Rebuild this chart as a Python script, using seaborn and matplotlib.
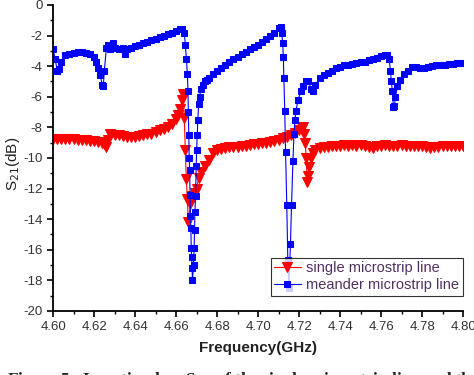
import matplotlib
matplotlib.use("Agg")
import matplotlib.pyplot as plt
import seaborn as sns
import pandas as pd
from matplotlib.ticker import MultipleLocator

# single microstrip line
single_f = [4.600, 4.602, 4.604, 4.606, 4.608, 4.610, 4.612, 4.614, 4.616, 4.618,
            4.620, 4.622, 4.624, 4.625, 4.626, 4.627, 4.628, 4.630, 4.632, 4.634,
            4.636, 4.638, 4.640, 4.642, 4.644, 4.646, 4.648, 4.650, 4.652, 4.654,
            4.656, 4.658, 4.660, 4.661, 4.662, 4.663, 4.6635, 4.6640, 4.6645, 4.665,
            4.6655, 4.666, 4.667, 4.668, 4.669, 4.670, 4.671, 4.672, 4.674, 4.676,
            4.678, 4.680, 4.682, 4.684, 4.686, 4.688, 4.690, 4.692, 4.694, 4.696,
            4.698, 4.700, 4.702, 4.704, 4.706, 4.708, 4.710, 4.712, 4.714, 4.716,
            4.718, 4.720, 4.7215, 4.722, 4.7225, 4.723, 4.7235, 4.724, 4.7245, 4.725,
            4.726, 4.727, 4.728, 4.730, 4.732, 4.734, 4.736, 4.738, 4.740, 4.742,
            4.744, 4.746, 4.748, 4.750, 4.752, 4.754, 4.756, 4.758, 4.760, 4.762,
            4.764, 4.766, 4.768, 4.770, 4.772, 4.774, 4.776, 4.778, 4.780, 4.782,
            4.784, 4.786, 4.788, 4.790, 4.792, 4.794, 4.796, 4.798, 4.800]
single_s21 = [-8.75, -8.75, -8.75, -8.75, -8.75, -8.75, -8.8, -8.8, -8.85, -8.9,
              -8.9, -8.95, -9.0, -9.1, -9.3, -8.8, -8.45, -8.5, -8.5, -8.55,
              -8.6, -8.6, -8.6, -8.55, -8.5, -8.45, -8.4, -8.3, -8.2, -8.1,
              -7.95, -7.75, -7.45, -7.2, -6.8, -6.2, -5.8, -7.4, -9.5, -11.4,
              -12.7, -14.2, -13.0, -12.5, -12.3, -12.0, -11.3, -10.9, -10.5, -10.1,
              -9.7, -9.5, -9.4, -9.35, -9.3, -9.3, -9.25, -9.2, -9.2, -9.15,
              -9.1, -9.1, -9.05, -9.0, -8.95, -8.9, -8.8, -8.7, -8.65, -8.5,
              -8.35, -8.2, -8.0, -8.0, -8.4, -9.0, -10.0, -11.6, -11.2, -10.6,
              -10.0, -9.7, -9.5, -9.35, -9.3, -9.25, -9.2, -9.2, -9.2, -9.15,
              -9.2, -9.15, -9.2, -9.15, -9.2, -9.3, -9.35, -9.2, -9.2, -9.15,
              -9.2, -9.2, -9.2, -9.15, -9.2, -9.2, -9.2, -9.2, -9.2, -9.25,
              -9.35, -9.3, -9.25, -9.2, -9.2, -9.2, -9.2, -9.2, -9.2]

# meander microstrip line
meander_f = [4.600, 4.601, 4.602, 4.603, 4.604, 4.606, 4.608, 4.610, 4.612, 4.614,
             4.616, 4.618, 4.620, 4.621, 4.622, 4.623, 4.624, 4.6245, 4.625, 4.626,
             4.627, 4.628, 4.629, 4.630, 4.632, 4.634, 4.635, 4.636, 4.638, 4.640,
             4.642, 4.644, 4.646, 4.648, 4.650, 4.652, 4.654, 4.656, 4.658, 4.660,
             4.662, 4.663, 4.664, 4.6645, 4.665, 4.6655, 4.6658, 4.666, 4.6662, 4.6664,
             4.6666, 4.6668, 4.667, 4.6672, 4.6674, 4.6676, 4.6678, 4.668, 4.6685, 4.6688,
             4.669, 4.6692, 4.6695, 4.6698, 4.670, 4.6703, 4.6706, 4.671, 4.6715, 4.672,
             4.673, 4.674, 4.675, 4.676, 4.678, 4.680, 4.682, 4.684, 4.686, 4.688,
             4.690, 4.692, 4.694, 4.696, 4.698, 4.700, 4.702, 4.704, 4.706, 4.708,
             4.710, 4.711, 4.7115, 4.712, 4.7123, 4.7126, 4.713, 4.7134, 4.714, 4.7145,
             4.715, 4.7158, 4.7163, 4.717, 4.7175, 4.718, 4.7185, 4.7195, 4.721, 4.722,
             4.7235, 4.7245, 4.726, 4.727, 4.728, 4.730, 4.732, 4.734, 4.736, 4.738,
             4.740, 4.742, 4.744, 4.746, 4.748, 4.750, 4.752, 4.754, 4.756, 4.758,
             4.760, 4.762, 4.763, 4.764, 4.7645, 4.765, 4.7655, 4.766, 4.7665, 4.767,
             4.768, 4.769, 4.771, 4.773, 4.775, 4.777, 4.779, 4.781, 4.783, 4.785,
             4.787, 4.789, 4.791, 4.793, 4.795, 4.797, 4.799]
meander_s21 = [-2.9, -3.5, -4.3, -4.2, -3.7, -3.3, -3.2, -3.15, -3.1, -3.1,
               -3.15, -3.2, -3.4, -3.7, -4.1, -4.6, -5.2, -5.3, -4.3, -2.8,
               -2.6, -2.9, -2.5, -2.8, -2.9, -2.8, -3.2, -2.9, -2.8, -2.7,
               -2.6, -2.5, -2.4, -2.3, -2.2, -2.1, -2.0, -1.9, -1.8, -1.7,
               -1.6, -1.6, -1.8, -2.6, -3.5, -4.5, -5.6, -7.0, -8.5, -10.0,
               -10.8, -12.4, -13.8, -14.6, -15.9, -16.5, -17.2, -18.0, -17.0, -15.9,
               -14.7, -13.5, -12.5, -10.5, -9.5, -8.5, -7.5, -6.5, -6.0, -5.5,
               -5.2, -5.0, -4.9, -4.8, -4.5, -4.3, -4.1, -3.9, -3.7, -3.55,
               -3.4, -3.2, -3.05, -2.9, -2.75, -2.6, -2.4, -2.25, -2.0, -1.8,
               -1.5, -1.45, -1.8, -2.5, -3.4, -4.8, -6.9, -9.6, -13.1, -16.7,
               -18.5, -15.6, -13.1, -10.2, -8.4, -7.5, -6.9, -6.2, -5.6, -5.3,
               -5.0, -5.0, -5.5, -5.6, -5.2, -4.8, -4.6, -4.45, -4.3, -4.15,
               -4.05, -3.95, -3.9, -3.85, -3.8, -3.75, -3.7, -3.6, -3.5, -3.45,
               -3.35, -3.3, -3.3, -3.5, -4.3, -5.0, -5.6, -6.7, -6.6, -6.0,
               -5.3, -4.9, -4.5, -4.3, -4.05, -4.05, -4.1, -4.15, -4.05, -4.0,
               -3.95, -3.9, -3.9, -3.85, -3.85, -3.8, -3.8]

x_ticks = [4.60, 4.62, 4.64, 4.66, 4.68, 4.70, 4.72, 4.74, 4.76, 4.78, 4.80]
y_ticks = [0, -2, -4, -6, -8, -10, -12, -14, -16, -18, -20]

sns.set_style("white")
plt.rcParams['font.family'] = ['Liberation Sans', 'DejaVu Sans']
plt.rcParams['axes.unicode_minus'] = False

fig = plt.figure(figsize=(4.74, 3.75), dpi=100)
ax = fig.add_axes([0.112, 0.1707, 0.865, 0.816])

df_single = pd.DataFrame({"f": single_f, "s21": single_s21})
df_meander = pd.DataFrame({"f": meander_f, "s21": meander_s21})

sns.lineplot(data=df_single, x="f", y="s21", ax=ax, color="#ff0000", marker="v",
             markersize=6.5, markeredgecolor="#ff0000", linewidth=0.8,
             sort=False, estimator=None, label="single microstrip line")
sns.lineplot(data=df_meander, x="f", y="s21", ax=ax, color="#0000ff", marker="s",
             markersize=5, markeredgecolor="#0000ff", linewidth=0.8,
             sort=False, estimator=None, label="meander microstrip line")

ax.set_xlim(4.60, 4.80)
ax.set_ylim(-20, 0)
ax.set_xticks(x_ticks)
ax.set_xticklabels([f"{t:.2f}" for t in x_ticks])
ax.set_yticks(y_ticks)
ax.set_yticklabels([str(t) for t in y_ticks])
ax.xaxis.set_minor_locator(MultipleLocator(0.01))
ax.yaxis.set_minor_locator(MultipleLocator(1))

sns.despine(ax=ax)
for sp in ("left", "bottom"):
    ax.spines[sp].set_color("black")
    ax.spines[sp].set_linewidth(1.3)
ax.tick_params(which="major", direction="out", length=4, width=1.2, color="black",
               labelsize=9.5, labelcolor="#333333", left=True, bottom=True)
ax.tick_params(which="minor", direction="out", length=2.5, width=1, color="black",
               left=True, bottom=True)

ax.set_xlabel("Frequency(GHz)", fontsize=11, fontweight="bold", color="#222222")
ax.xaxis.set_label_coords(0.5, -0.098)
ax.set_ylabel("S$_{21}$(dB)", fontsize=11, color="#222222")
ax.yaxis.set_label_coords(-0.077, 0.48)

leg = ax.legend(loc="lower right", bbox_to_anchor=(1.0, 0.049), fontsize=10.5,
                frameon=True, fancybox=False, edgecolor="black", borderpad=0.25,
                handlelength=1.8, handletextpad=0.4, labelspacing=0.2,
                borderaxespad=0.0)
leg.get_frame().set_linewidth(0.8)
for t in leg.get_texts():
    t.set_color("#503060")

fig.text(0.015, 0.012, "Figure 5.  Insertion loss S$_{21}$ of the single microstrip line and the",
         family=["Liberation Serif"], fontsize=12.5, fontweight="bold", va="top", ha="left")

fig.savefig("out.png", dpi=100)
